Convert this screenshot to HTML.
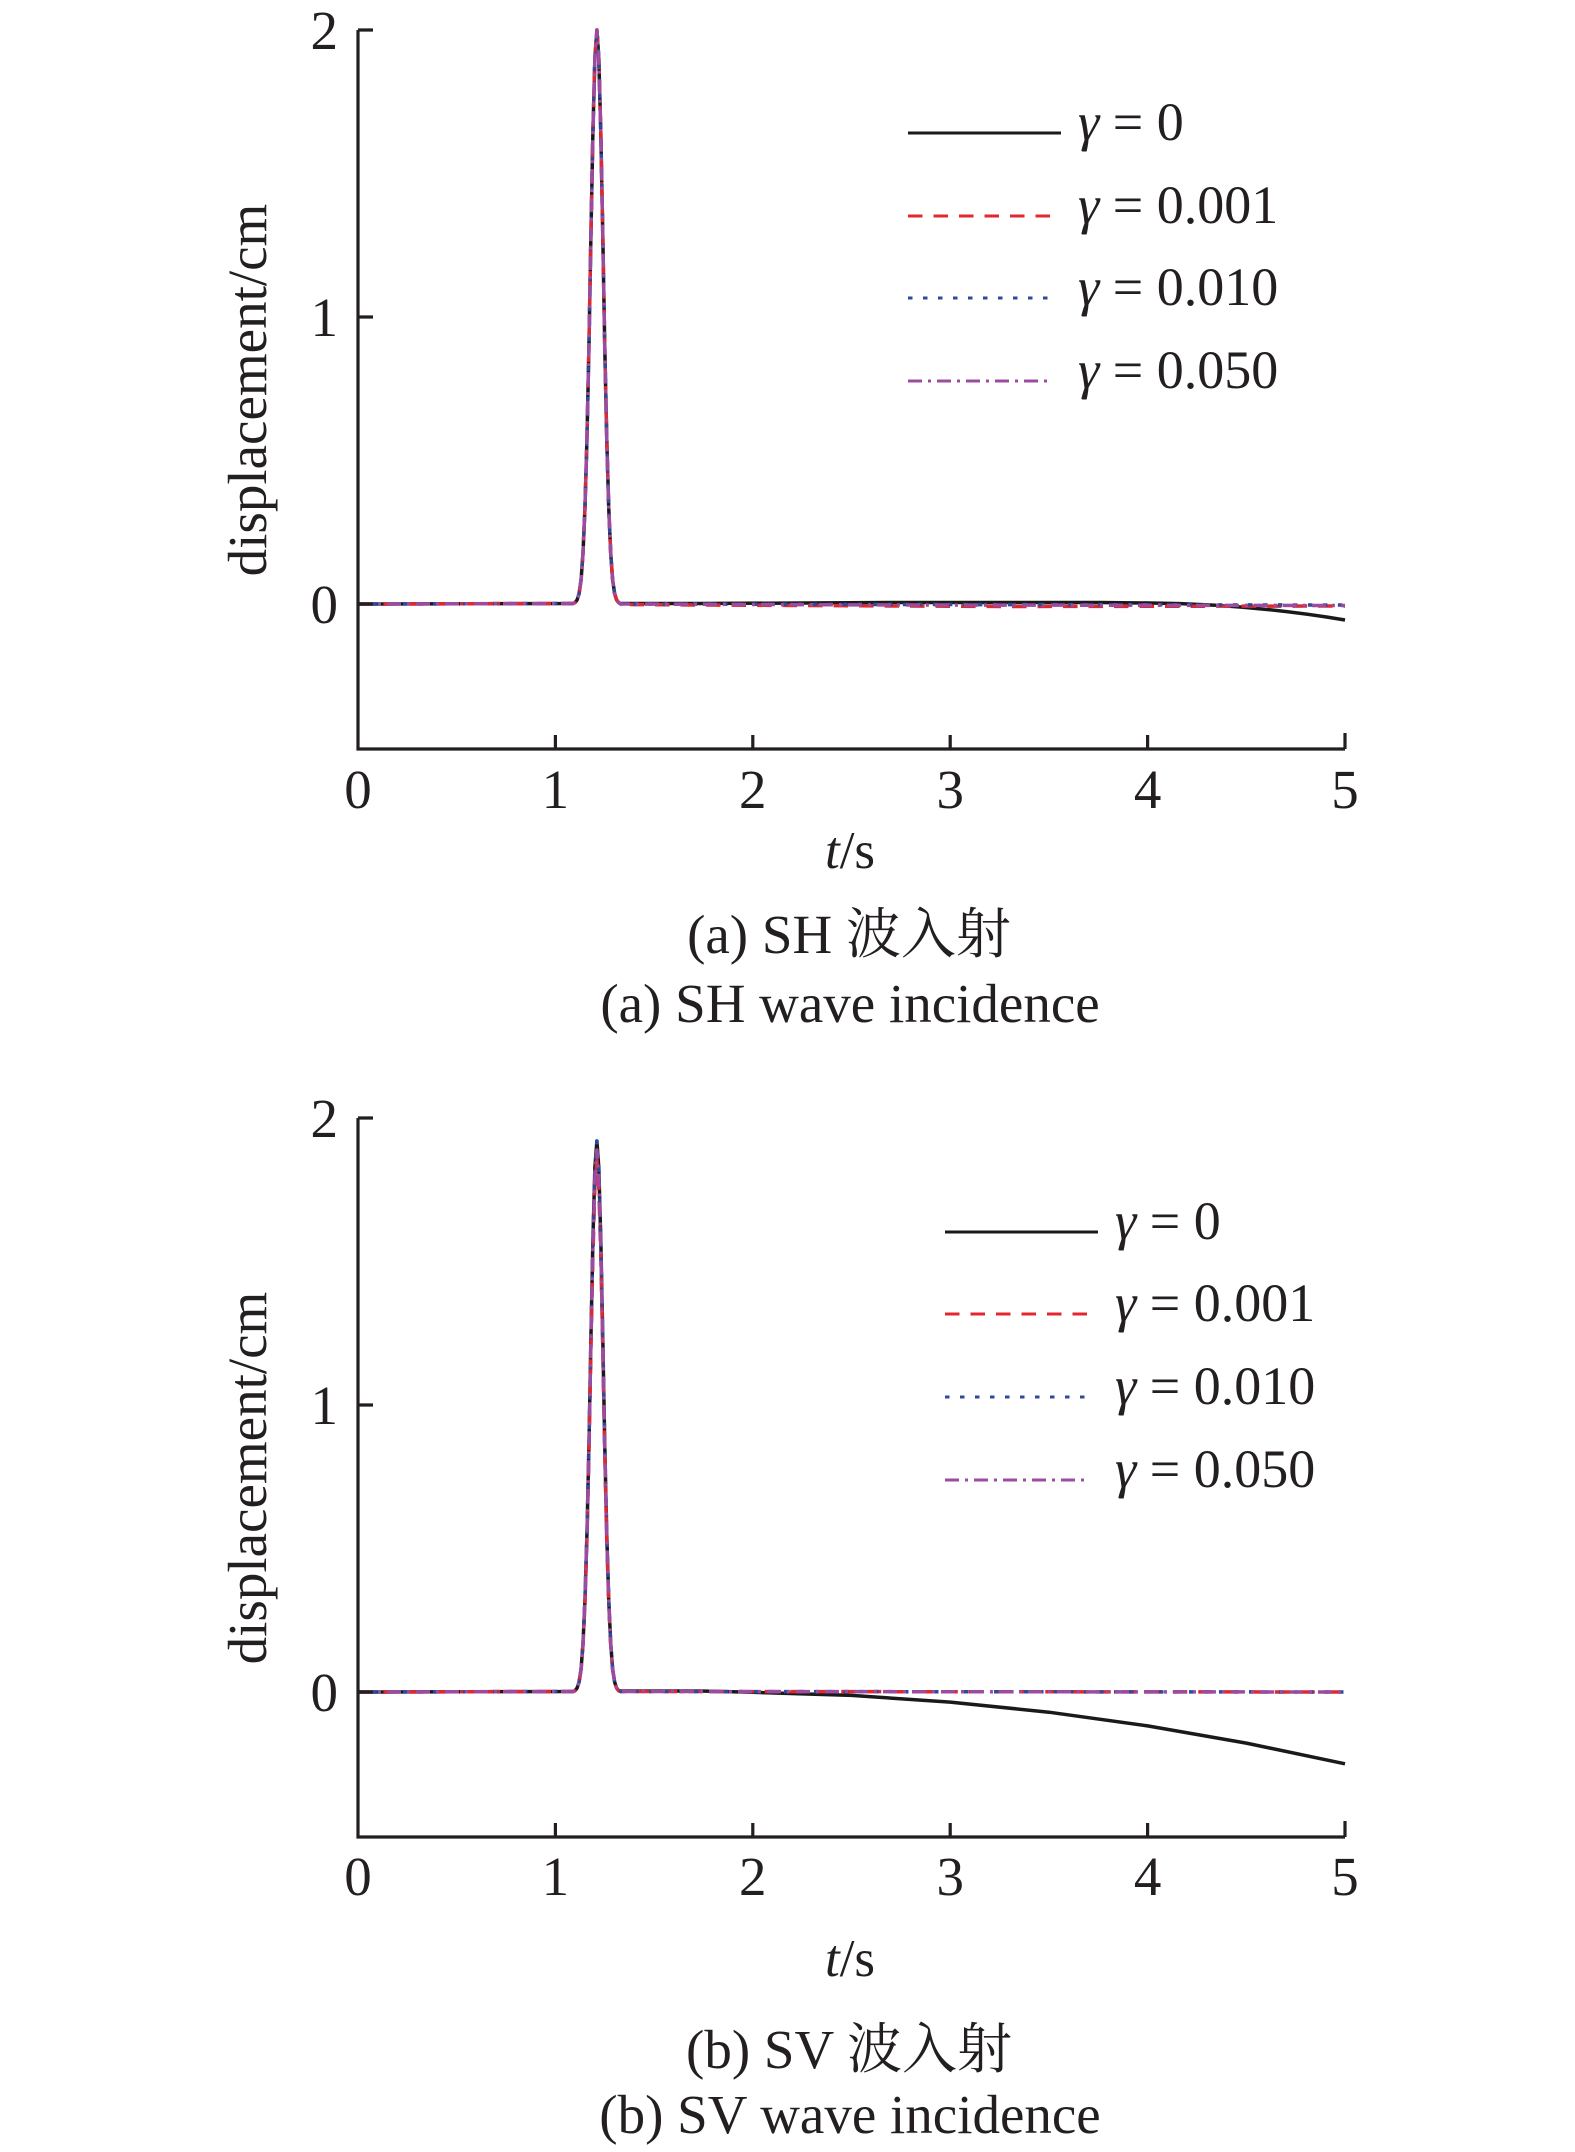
<!DOCTYPE html>
<html>
<head>
<meta charset="utf-8">
<style>
  html, body { margin:0; padding:0; background:#ffffff; }
  svg { display:block; }
  text { font-family: "Liberation Serif", "Noto Serif CJK SC", serif; fill:#231f20; }
</style>
</head>
<body>
<svg width="1575" height="2152" viewBox="0 0 1575 2152" xmlns="http://www.w3.org/2000/svg">
  <rect x="0" y="0" width="1575" height="2152" fill="#ffffff"/>

  <!-- ================= PANEL (a) ================= -->
  <g id="panelA">
    <g fill="none" stroke-width="3.5" stroke-linejoin="round">
      <path stroke="#1a1a1a" d="M358,604 L573.2,603.5 L575.1,602.5 L577.1,599.9 L579.1,593.5 L581.1,579.7 L583.0,553.0 L585.0,507.0 L587.0,437.0 L589.0,343.5 L590.9,236.0 L592.9,132.9 L594.9,57.7 L596.9,30 L598.8,57.7 L600.8,132.9 L602.8,236.0 L604.7,343.5 L606.7,437.0 L608.7,507.0 L610.7,553.0 L612.6,579.7 L614.6,593.5 L616.6,599.9 L618.6,602.5 L620.5,603.5 L700,603.5 L900,602.5 L1100,602.5 L1150,603 Q1250,604 1345,620"/>
      <path stroke="#e0282e" stroke-dasharray="14.5 11" d="M358,604 L573.2,603.5 L575.1,602.5 L577.1,599.9 L579.1,593.5 L581.1,579.7 L583.0,553.0 L585.0,507.0 L587.0,437.0 L589.0,343.5 L590.9,236.0 L592.9,132.9 L594.9,57.7 L596.9,30 L598.8,57.7 L600.8,132.9 L602.8,236.0 L604.7,343.5 L606.7,437.0 L608.7,507.0 L610.7,553.0 L612.6,579.7 L614.6,593.5 L616.6,599.9 L618.6,602.5 L620.5,604.5 L700,605 L1000,606.5 L1345,606"/>
      <path stroke="#2e4b9b" stroke-dasharray="4.5 10.5" d="M358,604 L573.2,603.5 L575.1,602.5 L577.1,599.9 L579.1,593.5 L581.1,579.7 L583.0,553.0 L585.0,507.0 L587.0,437.0 L589.0,343.5 L590.9,236.0 L592.9,132.9 L594.9,57.7 L596.9,30 L598.8,57.7 L600.8,132.9 L602.8,236.0 L604.7,343.5 L606.7,437.0 L608.7,507.0 L610.7,553.0 L612.6,579.7 L614.6,593.5 L616.6,599.9 L618.6,602.5 L620.5,604 L900,604.5 L1345,605"/>
      <path stroke="#9c4ca0" stroke-dasharray="14 6 3 6" d="M358,604 L573.2,603.5 L575.1,602.5 L577.1,599.9 L579.1,593.5 L581.1,579.7 L583.0,553.0 L585.0,507.0 L587.0,437.0 L589.0,343.5 L590.9,236.0 L592.9,132.9 L594.9,57.7 L596.9,30 L598.8,57.7 L600.8,132.9 L602.8,236.0 L604.7,343.5 L606.7,437.0 L608.7,507.0 L610.7,553.0 L612.6,579.7 L614.6,593.5 L616.6,599.9 L618.6,602.5 L620.5,604 L900,605 L1345,605.5"/>
    </g>

    <g stroke="#231f20" stroke-width="3.2" fill="none">
      <path d="M358,30 L358,749 L1345,749"/>
      <path d="M358,30 L373,30 M358,317 L373,317 M358,604 L373,604"/>
      <path d="M555.4,749 L555.4,735 M752.8,749 L752.8,735 M950.2,749 L950.2,735 M1147.6,749 L1147.6,735 M1345,749 L1345,733"/>
    </g>

    <g font-size="55" text-anchor="end">
      <text x="338" y="49">2</text>
      <text x="338" y="336">1</text>
      <text x="338" y="623">0</text>
    </g>
    <g font-size="55" text-anchor="middle">
      <text x="358" y="808">0</text>
      <text x="555.4" y="808">1</text>
      <text x="752.8" y="808">2</text>
      <text x="950.2" y="808">3</text>
      <text x="1147.6" y="808">4</text>
      <text x="1345" y="808">5</text>
    </g>

    <text font-size="55" text-anchor="middle" transform="translate(266,390) rotate(-90)">displacement/cm</text>
    <text font-size="53" text-anchor="middle" x="850" y="868"><tspan font-style="italic">t</tspan>/s</text>

    <g fill="none" stroke-width="3">
      <line x1="908" y1="133" x2="1061" y2="133" stroke="#1a1a1a"/>
      <line x1="908" y1="216" x2="1050" y2="216" stroke="#e0282e" stroke-dasharray="14.5 11"/>
      <line x1="908" y1="298" x2="1050" y2="298" stroke="#2e4b9b" stroke-dasharray="4.5 10.5"/>
      <line x1="908" y1="381" x2="1053" y2="381" stroke="#9c4ca0" stroke-dasharray="14 6 3 6"/>
    </g>
    <g font-size="54">
      <text x="1078" y="140"><tspan font-style="italic">γ</tspan> = 0</text>
      <text x="1078" y="223"><tspan font-style="italic">γ</tspan> = 0.001</text>
      <text x="1078" y="305"><tspan font-style="italic">γ</tspan> = 0.010</text>
      <text x="1078" y="388"><tspan font-style="italic">γ</tspan> = 0.050</text>
    </g>

    <g font-size="55" text-anchor="middle">
      <text x="849" y="953">(a) SH 波入射</text>
      <text x="850" y="1022">(a) SH wave incidence</text>
    </g>
  </g>

  <!-- ================= PANEL (b) ================= -->
  <g id="panelB">
    <g fill="none" stroke-width="3.5" stroke-linejoin="round">
      <path stroke="#1a1a1a" d="M358,1692 L573.2,1691.5 L575.1,1690.6 L577.1,1688.0 L579.1,1681.9 L581.1,1668.6 L583.0,1643.0 L585.0,1598.9 L587.0,1531.7 L589.0,1442.0 L590.9,1338.7 L592.9,1239.7 L594.9,1167.6 L596.9,1141 L598.8,1167.6 L600.8,1239.7 L602.8,1338.7 L604.7,1442.0 L606.7,1531.7 L608.7,1598.9 L610.7,1643.0 L612.6,1668.6 L614.6,1681.9 L616.6,1688.0 L618.6,1690.6 L620.5,1691 L700,1691 L752.8,1692.3 L851.5,1695.4 L950.2,1702.1 L1048.9,1712.2 L1147.6,1725.9 L1246.3,1743.1 L1345,1763.8"/>
      <path stroke="#e0282e" stroke-dasharray="14.5 11" d="M358,1692 L573.2,1691.5 L575.1,1690.7 L577.1,1688.2 L579.1,1682.4 L581.1,1669.6 L583.0,1645.0 L585.0,1602.6 L587.0,1537.8 L589.0,1451.4 L590.9,1351.8 L592.9,1256.4 L594.9,1186.9 L596.9,1160 L598.8,1186.9 L600.8,1256.4 L602.8,1351.8 L604.7,1451.4 L606.7,1537.8 L608.7,1602.6 L610.7,1645.0 L612.6,1669.6 L614.6,1682.4 L616.6,1688.2 L618.6,1690.7 L620.5,1691.5 L1345,1692"/>
      <path stroke="#2e4b9b" stroke-dasharray="4.5 10.5" d="M358,1692 L573.2,1691.5 L575.1,1690.6 L577.1,1688.0 L579.1,1681.9 L581.1,1668.6 L583.0,1643.0 L585.0,1598.9 L587.0,1531.7 L589.0,1442.0 L590.9,1338.7 L592.9,1239.7 L594.9,1167.6 L596.9,1141 L598.8,1167.6 L600.8,1239.7 L602.8,1338.7 L604.7,1442.0 L606.7,1531.7 L608.7,1598.9 L610.7,1643.0 L612.6,1668.6 L614.6,1681.9 L616.6,1688.0 L618.6,1690.6 L620.5,1691.5 L1345,1692"/>
      <path stroke="#9c4ca0" stroke-dasharray="14 6 3 6" d="M358,1692 L573.2,1691.5 L575.1,1690.6 L577.1,1688.0 L579.1,1682.0 L581.1,1669.0 L583.0,1644.0 L585.0,1600.5 L587.0,1534.5 L589.0,1446.5 L590.9,1345.0 L592.9,1248.0 L594.9,1177.0 L596.9,1150 L598.8,1177.0 L600.8,1248.0 L602.8,1345.0 L604.7,1446.5 L606.7,1534.5 L608.7,1600.5 L610.7,1644.0 L612.6,1669.0 L614.6,1682.0 L616.6,1688.0 L618.6,1690.6 L620.5,1691.5 L1345,1692"/>
    </g>

    <g stroke="#231f20" stroke-width="3.2" fill="none">
      <path d="M358,1118 L358,1837 L1345,1837"/>
      <path d="M358,1118 L373,1118 M358,1405 L373,1405 M358,1692 L373,1692"/>
      <path d="M555.4,1837 L555.4,1823 M752.8,1837 L752.8,1823 M950.2,1837 L950.2,1823 M1147.6,1837 L1147.6,1823 M1345,1837 L1345,1821"/>
    </g>

    <g font-size="55" text-anchor="end">
      <text x="338" y="1137">2</text>
      <text x="338" y="1424">1</text>
      <text x="338" y="1711">0</text>
    </g>
    <g font-size="55" text-anchor="middle">
      <text x="358" y="1895">0</text>
      <text x="555.4" y="1895">1</text>
      <text x="752.8" y="1895">2</text>
      <text x="950.2" y="1895">3</text>
      <text x="1147.6" y="1895">4</text>
      <text x="1345" y="1895">5</text>
    </g>

    <text font-size="55" text-anchor="middle" transform="translate(266,1478) rotate(-90)">displacement/cm</text>
    <text font-size="53" text-anchor="middle" x="850" y="1976"><tspan font-style="italic">t</tspan>/s</text>

    <g fill="none" stroke-width="3">
      <line x1="945" y1="1232" x2="1098" y2="1232" stroke="#1a1a1a"/>
      <line x1="945" y1="1314" x2="1087" y2="1314" stroke="#e0282e" stroke-dasharray="14.5 11"/>
      <line x1="945" y1="1397" x2="1087" y2="1397" stroke="#2e4b9b" stroke-dasharray="4.5 10.5"/>
      <line x1="945" y1="1480" x2="1090" y2="1480" stroke="#9c4ca0" stroke-dasharray="14 6 3 6"/>
    </g>
    <g font-size="54">
      <text x="1115" y="1239"><tspan font-style="italic">γ</tspan> = 0</text>
      <text x="1115" y="1321"><tspan font-style="italic">γ</tspan> = 0.001</text>
      <text x="1115" y="1404"><tspan font-style="italic">γ</tspan> = 0.010</text>
      <text x="1115" y="1487"><tspan font-style="italic">γ</tspan> = 0.050</text>
    </g>

    <g font-size="55" text-anchor="middle">
      <text x="849" y="2068">(b) SV 波入射</text>
      <text x="850" y="2133">(b) SV wave incidence</text>
    </g>
  </g>
</svg>
</body>
</html>
